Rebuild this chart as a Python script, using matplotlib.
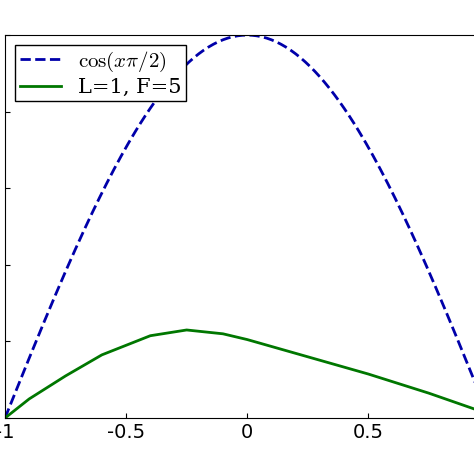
import numpy as np
import matplotlib
matplotlib.use("Agg")
import matplotlib.pyplot as plt

x_cos = np.linspace(-1, 1, 201)
y_cos = np.cos(x_cos*np.pi/2)
x_lf = [-1.0, -0.9, -0.75, -0.6, -0.5, -0.4, -0.25, -0.1, 0.0, 0.25, 0.5, 0.75, 1.0]
y_lf = [0.0, 0.05, 0.11, 0.165, 0.19, 0.215, 0.23, 0.22, 0.205, 0.16, 0.115, 0.065, 0.01]
xticks = [-1, -0.5, 0, 0.5, 1]
xticklabels = ['-1', '-0.5', '0', '0.5', '1']

fig = plt.figure(figsize=(4.74, 4.74), dpi=100)
ax = fig.add_axes([0.0105, 0.118, 1.022, 0.808])
ax.plot(x_cos, y_cos, '--', color='#0000aa', lw=2, label=r'$\cos(x\pi/2)$')
ax.plot(x_lf, y_lf, '-', color='#007700', lw=2, label='L=1, F=5')
ax.set_xlim(-1, 1)
ax.set_ylim(0, 1)
ax.set_xticks(xticks)
ax.set_xticklabels(xticklabels, fontsize=14)
ax.set_yticks([0, 0.2, 0.4, 0.6, 0.8, 1.0])
ax.tick_params(direction='in', labelsize=14)
plt.rcParams['mathtext.fontset'] = 'cm'
leg = ax.legend(loc='upper left', prop={'family': 'serif', 'size': 15},
                handlelength=2, borderpad=0.2, labelspacing=0.2,
                fancybox=False, edgecolor='black', framealpha=1)
fig.savefig('out.png', dpi=100)
